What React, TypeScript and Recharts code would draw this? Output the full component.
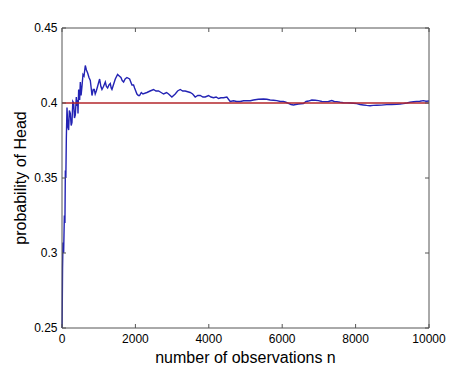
import {
  LineChart,
  Line,
  XAxis,
  YAxis,
} from "recharts";

// running proportion of heads
const nObs = [
  3, 15, 27, 45, 64, 80, 91, 105, 118, 136, 160, 181, 200, 227, 250, 272, 295,
  318, 340, 363, 390, 410, 426, 436, 454, 470, 481, 499, 520, 544, 572, 600,
  635, 665, 699, 735, 771, 795, 817, 850, 880, 905, 935, 980, 1025, 1060, 1089,
  1130, 1180, 1210, 1243, 1280, 1316, 1340, 1361, 1400, 1452, 1515, 1560, 1606,
  1640, 1679, 1720, 1769, 1842, 1906, 1950, 1978, 2042, 2080, 2114, 2160, 2205,
  2314, 2400, 2495, 2560, 2631, 2700, 2768, 2850, 2904, 2994, 3085, 3150, 3221,
  3290, 3357, 3493, 3560, 3630, 3700, 3766, 3840, 3902, 3993, 4060, 4129, 4200,
  4265, 4330, 4401, 4492, 4582, 4673, 4760, 4855, 4950, 5036, 5130, 5218, 5350,
  5490, 5580, 5671, 5760, 5853, 5950, 6034, 6100, 6170, 6240, 6306, 6370, 6443,
  6510, 6579, 6650, 6715, 6806, 6900, 6987, 7080, 7168, 7260, 7350, 7420, 7486,
  7580, 7668, 7760, 7849, 7940, 8031, 8120, 8212, 8300, 8393, 8480, 8575, 8700,
  8847, 8980, 9119, 9210, 9301, 9400, 9482, 9580, 9664, 9750, 9845, 9920, 10000,
];

const pHead = [
  0.25, 0.29, 0.307, 0.3, 0.325, 0.32, 0.355, 0.35, 0.376, 0.397, 0.384, 0.382,
  0.395, 0.393, 0.385, 0.387, 0.401, 0.4, 0.39, 0.392, 0.404, 0.398, 0.402,
  0.393, 0.409, 0.404, 0.402, 0.414, 0.405, 0.411, 0.419, 0.418, 0.425, 0.422,
  0.42, 0.417, 0.415, 0.41, 0.405, 0.409, 0.409, 0.406, 0.408, 0.412, 0.416,
  0.411, 0.409, 0.411, 0.414, 0.411, 0.41, 0.412, 0.413, 0.41, 0.409, 0.412,
  0.416, 0.419, 0.418, 0.417, 0.415, 0.414, 0.416, 0.417, 0.416, 0.412, 0.412,
  0.41, 0.406, 0.405, 0.405, 0.407, 0.406, 0.407, 0.408, 0.409, 0.408, 0.408,
  0.407, 0.406, 0.407, 0.406, 0.404, 0.406, 0.408, 0.409, 0.408, 0.408, 0.407,
  0.406, 0.404, 0.405, 0.405, 0.404, 0.404, 0.405, 0.404, 0.4035, 0.404, 0.403,
  0.4035, 0.4035, 0.404, 0.401, 0.4015, 0.401, 0.401, 0.4015, 0.4016, 0.4015,
  0.402, 0.4025, 0.4027, 0.4025, 0.402, 0.4018, 0.4016, 0.401, 0.401, 0.4005,
  0.3998, 0.399, 0.3987, 0.399, 0.3993, 0.3995, 0.3996, 0.401, 0.4013, 0.402,
  0.4018, 0.4016, 0.401, 0.4009, 0.401, 0.4016, 0.401, 0.4009, 0.4005, 0.4002,
  0.4001, 0.4, 0.3998, 0.3996, 0.399, 0.3987, 0.3984, 0.3982, 0.3984, 0.3985,
  0.3986, 0.3989, 0.399, 0.3991, 0.3993, 0.3996, 0.4, 0.4005, 0.4008, 0.4011,
  0.4012, 0.4016, 0.4012, 0.4013,
];

const trueP = 0.4;
const xTicks = [0, 2000, 4000, 6000, 8000, 10000];
const yTicks = [0.25, 0.3, 0.35, 0.4, 0.45];

const data = nObs.map((n, i) => ({ n, p: pHead[i] }));
// the true probability, drawn across the whole range on the top/right axes
const trueLine = [
  { n: xTicks[0], q: trueP },
  { n: xTicks[xTicks.length - 1], q: trueP },
];

const font = "'Liberation Sans', Arial, Helvetica, sans-serif";
const frame = "#555";

export default function App() {
  return (
    <div style={{ position: "absolute", left: 0, top: 0, background: "#fff" }}>
      <LineChart
        width={474}
        height={370}
        data={data}
        margin={{ top: 27, right: 44, bottom: 0, left: 0 }}
        style={{ fontFamily: font }}
      >
        <XAxis
          dataKey="n"
          type="number"
          domain={[0, 10000]}
          ticks={xTicks}
          height={42}
          stroke={frame}
          tickSize={-4}
          tickMargin={10}
          tick={{ fill: "#000", fontSize: 12 }}
          label={{
            value: "number of observations n",
            position: "insideBottom",
            offset: 7,
            fill: "#000",
            fontSize: 16,
          }}
        />
        <XAxis
          xAxisId="top"
          dataKey="n"
          orientation="top"
          type="number"
          domain={[0, 10000]}
          ticks={xTicks}
          height={1}
          stroke={frame}
          tickSize={-4}
          tickFormatter={() => ""}
        />
        <YAxis
          type="number"
          domain={[0.25, 0.45]}
          ticks={yTicks}
          width={62}
          stroke={frame}
          tickSize={-4}
          tickMargin={8.5}
          tick={{ fill: "#000", fontSize: 12 }}
          tickFormatter={(v) => String(v)}
          label={{
            value: "probability of Head",
            angle: -90,
            position: "insideLeft",
            offset: 20,
            fill: "#000",
            fontSize: 16,
            style: { textAnchor: "middle" },
          }}
        />
        <YAxis
          yAxisId="right"
          orientation="right"
          type="number"
          domain={[0.25, 0.45]}
          ticks={yTicks}
          width={1}
          stroke={frame}
          tickSize={-4}
          tickFormatter={() => ""}
        />
        <Line
          type="linear"
          dataKey="p"
          stroke="#2323b4"
          strokeWidth={1.4}
          dot={false}
          isAnimationActive={false}
        />
        <Line
          data={trueLine}
          xAxisId="top"
          yAxisId="right"
          type="linear"
          dataKey="q"
          stroke="#b3262b"
          strokeWidth={1.3}
          dot={false}
          isAnimationActive={false}
        />
      </LineChart>
    </div>
  );
}
